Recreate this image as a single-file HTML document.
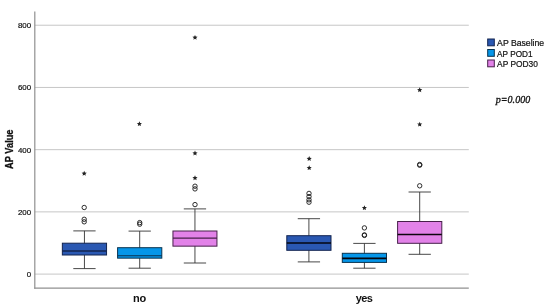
<!DOCTYPE html>
<html lang="en"><head><meta charset="utf-8"><title>AP Value box plot</title>
<style>
html,body{margin:0;padding:0;background:#fff;}
body{width:550px;height:305px;overflow:hidden;position:relative;font-family:"Liberation Sans",sans-serif;}
svg{position:absolute;left:0;top:0;display:block;}
text{font-family:"Liberation Sans",sans-serif;fill:#111;}
.tick{font-size:7.6px;stroke:#111;stroke-width:0.2px;}
.cat{font-size:11px;font-weight:bold;}
.leg{font-size:8.2px;stroke:#111;stroke-width:0.2px;}
.ytitle{font-size:10.3px;font-weight:bold;stroke:#111;stroke-width:0.3px;}
.pval{font-family:"Liberation Serif",serif;font-style:italic;font-size:10.5px;stroke:#111;stroke-width:0.32px;}
</style></head><body>
<svg width="550" height="305" viewBox="0 0 550 305">
<rect x="0" y="0" width="550" height="305" fill="#fff"/>
<line x1="34.8" y1="274.10" x2="468.8" y2="274.10" stroke="#c6c6c6" stroke-width="1"/>
<line x1="34.8" y1="211.88" x2="468.8" y2="211.88" stroke="#c6c6c6" stroke-width="1"/>
<line x1="34.8" y1="149.66" x2="468.8" y2="149.66" stroke="#c6c6c6" stroke-width="1"/>
<line x1="34.8" y1="87.44" x2="468.8" y2="87.44" stroke="#c6c6c6" stroke-width="1"/>
<line x1="34.8" y1="25.22" x2="468.8" y2="25.22" stroke="#c6c6c6" stroke-width="1"/>
<line x1="34.8" y1="11.5" x2="34.8" y2="288.7" stroke="#909090" stroke-width="1.2"/>
<line x1="34.3" y1="288.05" x2="468.8" y2="288.05" stroke="#909090" stroke-width="1.3"/>
<text class="tick" x="31.1" y="277.05" text-anchor="end" textLength="4.4" lengthAdjust="spacingAndGlyphs">0</text>
<text class="tick" x="31.1" y="214.83" text-anchor="end" textLength="13.2" lengthAdjust="spacingAndGlyphs">200</text>
<text class="tick" x="31.1" y="152.61" text-anchor="end" textLength="13.2" lengthAdjust="spacingAndGlyphs">400</text>
<text class="tick" x="31.1" y="90.39" text-anchor="end" textLength="13.2" lengthAdjust="spacingAndGlyphs">600</text>
<text class="tick" x="31.1" y="28.17" text-anchor="end" textLength="13.2" lengthAdjust="spacingAndGlyphs">800</text>
<text class="ytitle" transform="translate(12.5,149.2) rotate(-90)" text-anchor="middle" textLength="39.4" lengthAdjust="spacingAndGlyphs">AP Value</text>
<text class="cat" x="139.5" y="301.7" text-anchor="middle" style="letter-spacing:-0.3px">no</text>
<text class="cat" x="364.0" y="301.7" text-anchor="middle" style="letter-spacing:-0.65px">yes</text>
<line x1="84.45" y1="230.9" x2="84.45" y2="268.6" stroke="#343434" stroke-width="0.9"/>
<line x1="73.3" y1="230.9" x2="95.60000000000001" y2="230.9" stroke="#343434" stroke-width="0.9"/>
<line x1="73.3" y1="268.6" x2="95.60000000000001" y2="268.6" stroke="#343434" stroke-width="0.9"/>
<rect x="62.35" y="243.2" width="44.2" height="11.80" fill="#2a58b2" stroke="#13244f" stroke-width="1"/>
<line x1="62.35" y1="251.0" x2="106.55" y2="251.0" stroke="#13244f" stroke-width="1.6"/>
<line x1="139.7" y1="231.1" x2="139.7" y2="268.2" stroke="#343434" stroke-width="0.9"/>
<line x1="128.54999999999998" y1="231.1" x2="150.85" y2="231.1" stroke="#343434" stroke-width="0.9"/>
<line x1="128.54999999999998" y1="268.2" x2="150.85" y2="268.2" stroke="#343434" stroke-width="0.9"/>
<rect x="117.60" y="247.7" width="44.2" height="10.45" fill="#0596e9" stroke="#08324f" stroke-width="1"/>
<line x1="117.60" y1="255.75" x2="161.80" y2="255.75" stroke="#08324f" stroke-width="1.0"/>
<line x1="194.95" y1="208.9" x2="194.95" y2="263.0" stroke="#343434" stroke-width="0.9"/>
<line x1="183.79999999999998" y1="208.9" x2="206.1" y2="208.9" stroke="#343434" stroke-width="0.9"/>
<line x1="183.79999999999998" y1="263.0" x2="206.1" y2="263.0" stroke="#343434" stroke-width="0.9"/>
<rect x="172.95" y="231.0" width="44.0" height="15.15" fill="#e282e8" stroke="#47204a" stroke-width="1"/>
<line x1="172.95" y1="238.1" x2="216.95" y2="238.1" stroke="#47204a" stroke-width="1.1"/>
<line x1="308.9" y1="218.7" x2="308.9" y2="261.9" stroke="#343434" stroke-width="0.9"/>
<line x1="297.75" y1="218.7" x2="320.04999999999995" y2="218.7" stroke="#343434" stroke-width="0.9"/>
<line x1="297.75" y1="261.9" x2="320.04999999999995" y2="261.9" stroke="#343434" stroke-width="0.9"/>
<rect x="286.80" y="235.7" width="44.2" height="14.60" fill="#2a58b2" stroke="#13244f" stroke-width="1"/>
<line x1="286.80" y1="242.95" x2="331.00" y2="242.95" stroke="#05060f" stroke-width="1.5"/>
<line x1="364.4" y1="243.4" x2="364.4" y2="268.2" stroke="#343434" stroke-width="0.9"/>
<line x1="353.25" y1="243.4" x2="375.54999999999995" y2="243.4" stroke="#343434" stroke-width="0.9"/>
<line x1="353.25" y1="268.2" x2="375.54999999999995" y2="268.2" stroke="#343434" stroke-width="0.9"/>
<rect x="342.30" y="253.3" width="44.2" height="9.10" fill="#0596e9" stroke="#08324f" stroke-width="1"/>
<line x1="342.30" y1="258.4" x2="386.50" y2="258.4" stroke="#05060f" stroke-width="1.6"/>
<line x1="419.7" y1="192.0" x2="419.7" y2="254.3" stroke="#343434" stroke-width="0.9"/>
<line x1="408.55" y1="192.0" x2="430.84999999999997" y2="192.0" stroke="#343434" stroke-width="0.9"/>
<line x1="408.55" y1="254.3" x2="430.84999999999997" y2="254.3" stroke="#343434" stroke-width="0.9"/>
<rect x="397.60" y="221.5" width="44.2" height="21.80" fill="#e282e8" stroke="#47204a" stroke-width="1"/>
<line x1="397.60" y1="234.5" x2="441.80" y2="234.5" stroke="#0d050e" stroke-width="1.4"/>
<polygon points="84.20,170.80 84.93,172.49 86.77,172.67 85.39,173.89 85.79,175.68 84.20,174.75 82.61,175.68 83.01,173.89 81.63,172.67 83.47,172.49" fill="#222"/>
<polygon points="139.40,121.20 140.13,122.89 141.97,123.07 140.59,124.29 140.99,126.08 139.40,125.15 137.81,126.08 138.21,124.29 136.83,123.07 138.67,122.89" fill="#222"/>
<polygon points="195.00,34.90 195.73,36.59 197.57,36.77 196.19,37.99 196.59,39.78 195.00,38.85 193.41,39.78 193.81,37.99 192.43,36.77 194.27,36.59" fill="#222"/>
<polygon points="195.00,150.60 195.73,152.29 197.57,152.47 196.19,153.69 196.59,155.48 195.00,154.55 193.41,155.48 193.81,153.69 192.43,152.47 194.27,152.29" fill="#222"/>
<polygon points="195.00,175.30 195.73,176.99 197.57,177.17 196.19,178.39 196.59,180.18 195.00,179.25 193.41,180.18 193.81,178.39 192.43,177.17 194.27,176.99" fill="#222"/>
<polygon points="309.20,156.10 309.93,157.79 311.77,157.97 310.39,159.19 310.79,160.98 309.20,160.05 307.61,160.98 308.01,159.19 306.63,157.97 308.47,157.79" fill="#222"/>
<polygon points="309.20,165.20 309.93,166.89 311.77,167.07 310.39,168.29 310.79,170.08 309.20,169.15 307.61,170.08 308.01,168.29 306.63,167.07 308.47,166.89" fill="#222"/>
<polygon points="364.40,205.20 365.13,206.89 366.97,207.07 365.59,208.29 365.99,210.08 364.40,209.15 362.81,210.08 363.21,208.29 361.83,207.07 363.67,206.89" fill="#222"/>
<polygon points="419.70,87.30 420.43,88.99 422.27,89.17 420.89,90.39 421.29,92.18 419.70,91.25 418.11,92.18 418.51,90.39 417.13,89.17 418.97,88.99" fill="#222"/>
<polygon points="419.70,121.70 420.43,123.39 422.27,123.57 420.89,124.79 421.29,126.58 419.70,125.65 418.11,126.58 418.51,124.79 417.13,123.57 418.97,123.39" fill="#222"/>
<circle cx="84.2" cy="207.5" r="2.2" fill="none" stroke="#1c1c1c" stroke-width="0.92"/>
<circle cx="84.2" cy="219.3" r="2.2" fill="none" stroke="#1c1c1c" stroke-width="0.92"/>
<circle cx="84.2" cy="221.8" r="2.2" fill="none" stroke="#1c1c1c" stroke-width="0.92"/>
<circle cx="139.7" cy="222.6" r="2.2" fill="none" stroke="#1c1c1c" stroke-width="0.92"/>
<circle cx="139.7" cy="224.2" r="2.2" fill="none" stroke="#1c1c1c" stroke-width="0.92"/>
<circle cx="195" cy="186.2" r="2.2" fill="none" stroke="#1c1c1c" stroke-width="0.92"/>
<circle cx="195" cy="188.9" r="2.2" fill="none" stroke="#1c1c1c" stroke-width="0.92"/>
<circle cx="195" cy="204.6" r="2.2" fill="none" stroke="#1c1c1c" stroke-width="0.92"/>
<circle cx="309" cy="193.4" r="2.2" fill="none" stroke="#1c1c1c" stroke-width="0.92"/>
<circle cx="309" cy="196.6" r="2.2" fill="none" stroke="#1c1c1c" stroke-width="0.92"/>
<circle cx="309" cy="199.8" r="2.2" fill="none" stroke="#1c1c1c" stroke-width="0.92"/>
<circle cx="309" cy="202.2" r="2.2" fill="none" stroke="#1c1c1c" stroke-width="0.92"/>
<circle cx="364.4" cy="227.9" r="2.2" fill="none" stroke="#1c1c1c" stroke-width="0.92"/>
<circle cx="364.4" cy="234.9" r="2.2" fill="none" stroke="#1c1c1c" stroke-width="0.92"/>
<circle cx="364.4" cy="235.4" r="2.2" fill="none" stroke="#1c1c1c" stroke-width="0.92"/>
<circle cx="419.7" cy="185.8" r="2.2" fill="none" stroke="#1c1c1c" stroke-width="0.92"/>
<circle cx="419.7" cy="164.5" r="2.2" fill="none" stroke="#1c1c1c" stroke-width="0.92"/>
<circle cx="419.7" cy="165.2" r="2.2" fill="none" stroke="#1c1c1c" stroke-width="0.92"/>
<rect x="487.7" y="39.00" width="6.6" height="6.8" fill="#2a58b2" stroke="#13244f" stroke-width="1"/>
<text class="leg" x="497.1" y="46.10" textLength="47.1" lengthAdjust="spacingAndGlyphs">AP Baseline</text>
<rect x="487.7" y="49.50" width="6.6" height="6.8" fill="#0596e9" stroke="#08324f" stroke-width="1"/>
<text class="leg" x="497.1" y="56.60" textLength="35.5" lengthAdjust="spacingAndGlyphs">AP POD1</text>
<rect x="487.7" y="60.00" width="6.6" height="6.8" fill="#e282e8" stroke="#47204a" stroke-width="1"/>
<text class="leg" x="497.1" y="67.10" textLength="40.8" lengthAdjust="spacingAndGlyphs">AP POD30</text>
<text class="pval" x="495.8" y="103" textLength="34.4" lengthAdjust="spacingAndGlyphs">p=0.000</text>
</svg></body></html>
